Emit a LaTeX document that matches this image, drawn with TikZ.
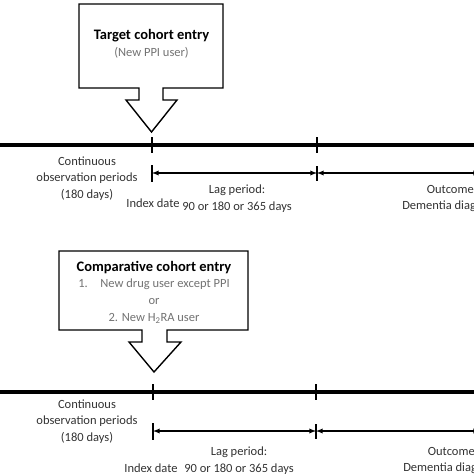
\documentclass[tikz,border=0pt]{standalone}
\usepackage{fontspec}
\setmainfont{Carlito}
\definecolor{labelgray}{RGB}{50,50,50}
\definecolor{notegray}{RGB}{115,115,115}
\tikzset{
  timeline/.style={line width=4pt},
  tick/.style={line width=1.4pt},
  span/.style={latex-latex, line width=1.3pt},
  callout/.style={draw, line width=1.4pt, fill=white},
  label/.style={text=labelgray, align=center, inner sep=0pt, font=\fontsize{12.5}{16.5}\selectfont},
  title/.style={inner sep=0pt, font=\bfseries\fontsize{14.5}{17}\selectfont},
  note/.style={text=notegray, align=center, inner sep=0pt, font=\fontsize{12.5}{17}\selectfont}
}
\begin{document}
\begin{tikzpicture}[x=1pt, y=-1pt]
  \useasboundingbox (0,0) rectangle (474,474);
  \clip (0,0) rectangle (474,474);

  % target cohort
  \draw[callout] (79,4) -- (223,4) -- (223,88) -- (163,88) -- (163,100) -- (177,100)
    -- (151.5,132) -- (126,100) -- (139,100) -- (139,88) -- (79,88) -- cycle;
  \node[title] (tgt) at (151.5,36) {Target cohort entry};
  \node[note] (tgtnote) at (151.5,53) {(New PPI user)};

  \coordinate (tstart) at (0,145);
  \coordinate (tend) at (480,145);
  \draw[timeline] (tstart) -- (tend);
  \foreach \x in {152,317} {
    \draw[tick] (\x,137) -- (\x,153);
  }
  \coordinate (tidx) at (152,173);
  \coordinate (tlag) at (317,173);
  \coordinate (tout) at (480,173);
  \draw[tick] (152,165) -- (152,182);
  \draw[tick] (317,166) -- (317,181);
  \draw[span] (tidx) -- (tlag);
  \draw[span] (tlag) -- (tout);
  \node[label] (tobs) at (87,178.5) {Continuous\\observation periods\\(180 days)};
  \node[label] (tindex) at (153,203) {Index date};
  \node[label] (tlagtxt) at (237,198.5) {Lag period:\\90 or 180 or 365 days};
  \node[label] (touttxt) at (452,198.5) {Outcome:\\Dementia diagnosis};

  % comparative cohort
  \draw[callout] (59,251) -- (248,251) -- (248,330) -- (167,330) -- (167,342) -- (181,342)
    -- (154,372) -- (129,342) -- (142,342) -- (142,330) -- (59,330) -- cycle;
  \node[title] (cmp) at (154,268) {Comparative cohort entry};
  \node[note] (cmpnote) at (154,301) {1.\quad New drug user except PPI\\or\\2. New H\textsubscript{2}RA user};

  \coordinate (cstart) at (0,392);
  \coordinate (cend) at (480,392);
  \draw[timeline] (cstart) -- (cend);
  \foreach \x in {153,316} {
    \draw[tick] (\x,384) -- (\x,400);
  }
  \coordinate (cidx) at (153,431);
  \coordinate (clag) at (316,431);
  \coordinate (cout) at (480,431);
  \draw[tick] (153,423) -- (153,440);
  \draw[tick] (316,424) -- (316,439);
  \draw[span] (cidx) -- (clag);
  \draw[span] (clag) -- (cout);
  \node[label] (cobs) at (87,421.5) {Continuous\\observation periods\\(180 days)};
  \node[label] (cindex) at (151,468) {Index date};
  \node[label] (clagtxt) at (239,460.5) {Lag period:\\90 or 180 or 365 days};
  \node[label] (couttxt) at (453,460.5) {Outcome:\\Dementia diagnosis};
\end{tikzpicture}
\end{document}
